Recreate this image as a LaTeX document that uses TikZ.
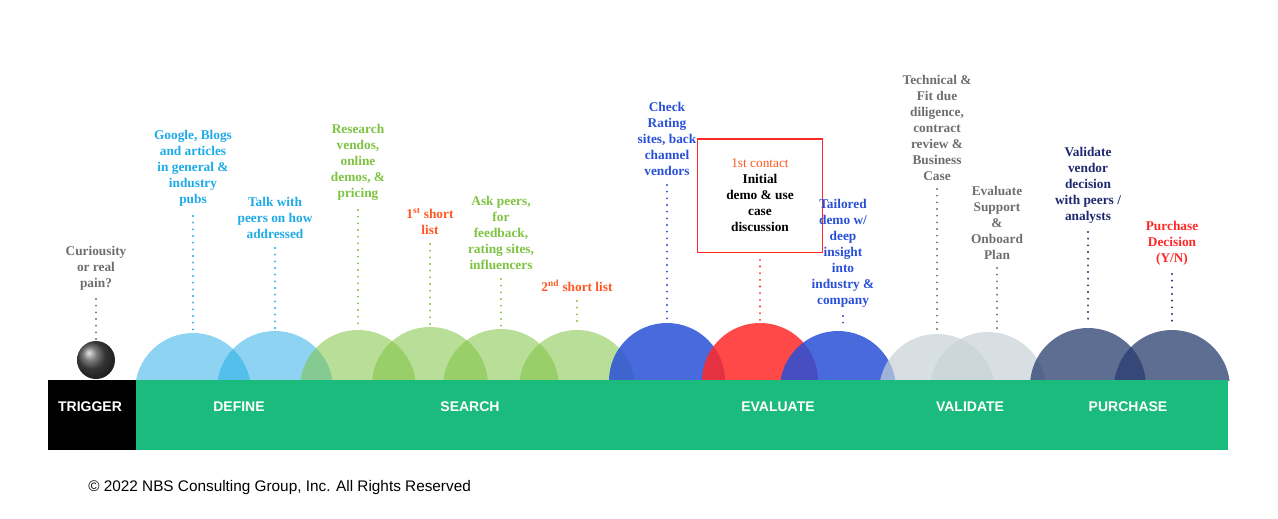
\documentclass[tikz,border=0pt]{standalone}
\usepackage{fontspec}
\setmainfont{Liberation Serif}
\setsansfont{Liberation Sans}
\begin{document}
\begin{tikzpicture}[x=0.75pt,y=-0.75pt,
  lbl/.style={align=center,font=\fontsize{10}{12}\selectfont\bfseries,inner sep=1pt},
  dots/.style={line width=1.6pt,dash pattern=on 0pt off 5pt,line cap=round},
  phase/.style={text=white,font=\sffamily\bfseries\fontsize{10.5}{12}\selectfont},
  dome/.style={fill=#1}]
\definecolor{cgray}{RGB}{110,110,110}
\definecolor{cblue}{RGB}{29,170,230}
\definecolor{cgreen}{RGB}{125,195,65}
\definecolor{corange}{RGB}{255,87,34}
\definecolor{croyal}{RGB}{40,80,215}
\definecolor{cred}{RGB}{255,40,40}
\definecolor{clgray}{RGB}{200,210,215}
\definecolor{cnavy}{RGB}{40,60,110}
\definecolor{cbar}{RGB}{27,187,125}
\definecolor{ctext}{RGB}{30,40,110}
\useasboundingbox (0,0) rectangle (1278,518);
% domes
\begin{scope}
\clip (0,0) rectangle (1278,380);
\fill[cblue,opacity=0.5] (193,391) circle (58);
\fill[cblue,opacity=0.5] (275,389) circle (58);
\fill[cgreen,opacity=0.55] (358,388) circle (58);
\fill[cgreen,opacity=0.55] (430,385) circle (58);
\fill[cgreen,opacity=0.55] (501,387) circle (58);
\fill[cgreen,opacity=0.55] (577,388) circle (58);
\fill[croyal,opacity=0.85] (667,381) circle (58);
\fill[cred,opacity=0.85] (760,381) circle (58);
\fill[croyal,opacity=0.85] (838,389) circle (58);
\fill[clgray,opacity=0.7] (937,392) circle (58);
\fill[clgray,opacity=0.7] (988,390) circle (58);
\fill[cnavy,opacity=0.75] (1088,386) circle (58);
\fill[cnavy,opacity=0.75] (1172,388) circle (58);
\end{scope}
\shade[ball color=black!70] (96,360) circle (19);
\coordinate (ball) at (96,340);
% bar
\fill[black] (48,380) rectangle (136,450);
\fill[cbar] (136,380) rectangle (1228,450);
\node[phase] (p0) at (90,407) {TRIGGER};
\node[phase] (p1) at (239,407) {DEFINE};
\node[phase] (p2) at (470,407) {SEARCH};
\node[phase] (p3) at (778,407) {EVALUATE};
\node[phase] (p4) at (970,407) {VALIDATE};
\node[phase] (p5) at (1128,407) {PURCHASE};
% labels
\node[lbl,text=cgray,anchor=south] (t0) at (96,292) {Curiousity\\or real\\pain?};
\draw[dots,cgray] (96,299) -- (ball);
\node[lbl,text=cblue,anchor=south] (t1) at (193,208) {Google, Blogs\\and articles\\in general \&\\industry\\pubs};
\coordinate (d1) at (193,330);
\draw[dots,cblue] (193,216) -- (d1);
\node[lbl,text=cblue,anchor=south] (t2) at (275,240) {Talk with\\peers on how\\addressed};
\coordinate (d2) at (275,330);
\draw[dots,cblue] (275,248) -- (d2);
\node[lbl,text=cgreen,anchor=south] (t3) at (358,202) {Research\\vendos,\\online\\demos, \&\\pricing};
\coordinate (d3) at (358,328);
\draw[dots,cgreen] (358,210) -- (d3);
\node[lbl,text=corange,anchor=south] (t4) at (430,236) {1\textsuperscript{st} short\\list};
\coordinate (d4) at (430,325);
\draw[dots,cgreen] (430,244) -- (d4);
\node[lbl,text=cgreen,anchor=south] (t5) at (501,271) {Ask peers,\\for\\feedback,\\rating sites,\\influencers};
\coordinate (d5) at (501,327);
\draw[dots,cgreen] (501,279) -- (d5);
\node[lbl,text=corange,anchor=south] (t6) at (577,293) {2\textsuperscript{nd} short list};
\coordinate (d6) at (577,326);
\draw[dots,cgreen] (577,301) -- (d6);
\node[lbl,text=croyal,anchor=south] (t7) at (667,177) {Check\\Rating\\sites, back\\channel\\vendors};
\coordinate (d7) at (667,322);
\draw[dots,croyal] (667,185) -- (d7);
\node[lbl,draw=cred,line width=1pt,minimum width=94,minimum height=85,text=black] (t8) at (760,195.5) {\textcolor{corange}{\fontseries{m}\selectfont 1st contact}\\Initial\\demo \& use\\case\\discussion};
\coordinate (d8) at (760,322);
\draw[dots,cred] (t8.south) ++(0,7) -- (d8);
\node[lbl,text=croyal,anchor=south] (t9) at (843,309) {Tailored\\demo w/\\deep\\insight\\into\\industry \&\\company};
\coordinate (d9) at (843,329);
\draw[dots,croyal] (843,316) -- (d9);
\node[lbl,text=cgray,anchor=south] (t10) at (937,182) {Technical \&\\Fit due\\diligence,\\contract\\review \&\\Business\\Case};
\coordinate (d10) at (937,330);
\draw[dots,cgray] (937,189) -- (d10);
\node[lbl,text=cgray,anchor=south] (t11) at (997,261) {Evaluate\\Support\\\&\\Onboard\\Plan};
\coordinate (d11) at (997,328);
\draw[dots,cgray] (997,268) -- (d11);
\node[lbl,text=ctext,anchor=south] (t12) at (1088,225) {Validate\\vendor\\decision\\with peers /\\analysts};
\coordinate (d12) at (1088,325);
\draw[dots,ctext] (1088,232) -- (d12);
\node[lbl,text=cred,anchor=south] (t13) at (1172,267) {Purchase\\Decision\\(Y/N)};
\coordinate (d13) at (1172,326);
\draw[dots,ctext] (1172,274) -- (d13);
\node[anchor=west,font=\sffamily\fontsize{11.5}{13}\selectfont,inner sep=0] (copy) at (88,488) {\textcopyright{} 2022 NBS Consulting Group, Inc. All Rights Reserved};
\end{tikzpicture}
\end{document}
